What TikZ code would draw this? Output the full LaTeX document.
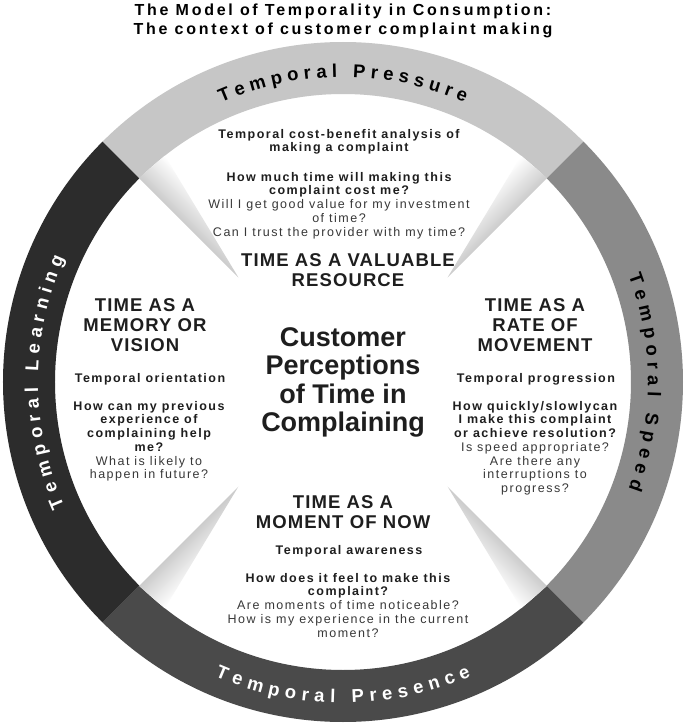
\documentclass[tikz,border=0pt]{standalone}
\usepackage{fontspec}
\setmainfont{Liberation Sans}
\newfontfamily\titlefont[LetterSpace=17]{Liberation Sans}
\newfontfamily\headfont[LetterSpace=6]{Liberation Sans}
\newfontfamily\bodyfont[LetterSpace=12]{Liberation Sans}
\newfontfamily\ringfont{Liberation Sans}
\usetikzlibrary{decorations.text}

\definecolor{ringtop}{HTML}{C6C6C6}
\definecolor{ringright}{HTML}{8A8A8A}
\definecolor{ringbottom}{HTML}{4A4A4A}
\definecolor{ringleft}{HTML}{2C2C2C}
\definecolor{inktext}{HTML}{1E1E1E}
\definecolor{softtext}{HTML}{383838}
\definecolor{foldgray}{HTML}{CCCCCC}

\newcommand{\rg}{\mdseries\color{softtext}}

\tikzset{
  heading/.style={inner sep=0pt, anchor=north, align=center, text=inktext,
    font=\headfont\bfseries\fontsize{18.5}{20}\selectfont},
  facet/.style={inner sep=0pt, anchor=north, align=center, text=inktext,
    font=\bodyfont\bfseries\fontsize{12.5}{13.7}\selectfont},
  ringlabel/.style={decorate, decoration={text along path, text align={fit to path}}}
}

\begin{document}
\begin{tikzpicture}[x=1pt, y=1pt]
    \useasboundingbox (-343,-344) rectangle (342,382);
    \fill[white] (-343,-344) rectangle (342,382);

    % Ring
    \foreach \a/\c in {45/ringtop, -45/ringright, 225/ringbottom, 135/ringleft}
        \fill[\c] (\a:340) arc[start angle=\a, end angle=\a+90, radius=340]
            -- (\a+90:288) arc[start angle=\a+90, end angle=\a, radius=288] -- cycle;

    % Folds
    \foreach \a in {135,315} {
        \begin{scope}[transform canvas={rotate=\a}]
            \shade[top color=foldgray, bottom color=white] (148,0) -- (288.5,0) -- (286,-34) -- cycle;
        \end{scope}
    }
    \foreach \a in {45,225} {
        \begin{scope}[transform canvas={rotate=\a}]
            \shade[top color=white, bottom color=foldgray] (148,0) -- (288.5,0) -- (286,34) -- cycle;
        \end{scope}
    }

    % Ring labels
    \path[ringlabel, decoration={text={|\ringfont\bfseries\fontsize{18.5}{18.5}\selectfont\color{black}|Temporal Pressure}}]
        (113.5:305) arc[start angle=113.5, end angle=66.5, radius=305];
    \path[ringlabel, decoration={text={|\ringfont\bfseries\fontsize{18.5}{18.5}\selectfont\color{black}|Temporal Speed}}]
        (20.5:305) arc[start angle=20.5, end angle=-20.5, radius=305];
    \path[ringlabel, decoration={text={|\ringfont\bfseries\fontsize{18.5}{18.5}\selectfont\color{white}|Temporal Learning}}]
        (204:305) arc[start angle=204, end angle=156, radius=305];
    \path[ringlabel, decoration={text={|\ringfont\bfseries\fontsize{18.5}{18.5}\selectfont\color{white}|Temporal Presence}}]
        (246.5:321) arc[start angle=246.5, end angle=293.5, radius=321];

    % Title
    \node[inner sep=0pt, anchor=north, align=center, text=black,
          font=\titlefont\bfseries\fontsize{16}{19}\selectfont] (title) at (0,378)
        {The Model of Temporality in Consumption:\\The context of customer complaint making};

    % Centre
    \node[inner sep=0pt, anchor=north, align=center, text=inktext,
          font=\bfseries\fontsize{27}{28.5}\selectfont] (core) at (0,55)
        {Customer\\Perceptions\\of Time in\\Complaining};

    % Top
    \node[facet] (top-facet) at (-4,253) {Temporal cost-benefit analysis of\\making a complaint};
    \node[facet] (top-ask) at (-4,210)
        {How much time will making this\\complaint cost me?\\
         \rg Will I get good value for my investment\\\rg of time?\\
         \rg Can I trust the provider with my time?};
    \node[heading] (top-head) at (5,129) {TIME AS A VALUABLE\\RESOURCE};

    % Left
    \node[heading] (left-head) at (-198,84) {TIME AS A\\MEMORY OR\\VISION};
    \node[facet] (left-facet) at (-193,9) {Temporal orientation};
    \node[facet] (left-ask) at (-194,-19)
        {How can my previous\\experience of\\complaining help\\me?\\
         \rg What is likely to\\\rg happen in future?};

    % Right
    \node[heading] (right-head) at (192,84) {TIME AS A\\RATE OF\\MOVEMENT};
    \node[facet] (right-facet) at (193,9) {Temporal progression};
    \node[facet] (right-ask) at (192,-19)
        {How quickly/slowlycan\\I make this complaint\\or achieve resolution?\\
         \rg Is speed appropriate?\\\rg Are there any\\\rg interruptions to\\\rg progress?};

    % Bottom
    \node[heading] (bottom-head) at (0,-113) {TIME AS A\\MOMENT OF NOW};
    \node[facet] (bottom-facet) at (6,-163) {Temporal awareness};
    \node[facet] (bottom-ask) at (5,-191)
        {How does it feel to make this\\complaint?\\
         \rg Are moments of time noticeable?\\
         \rg How is my experience in the current\\\rg moment?};
\end{tikzpicture}
\end{document}
